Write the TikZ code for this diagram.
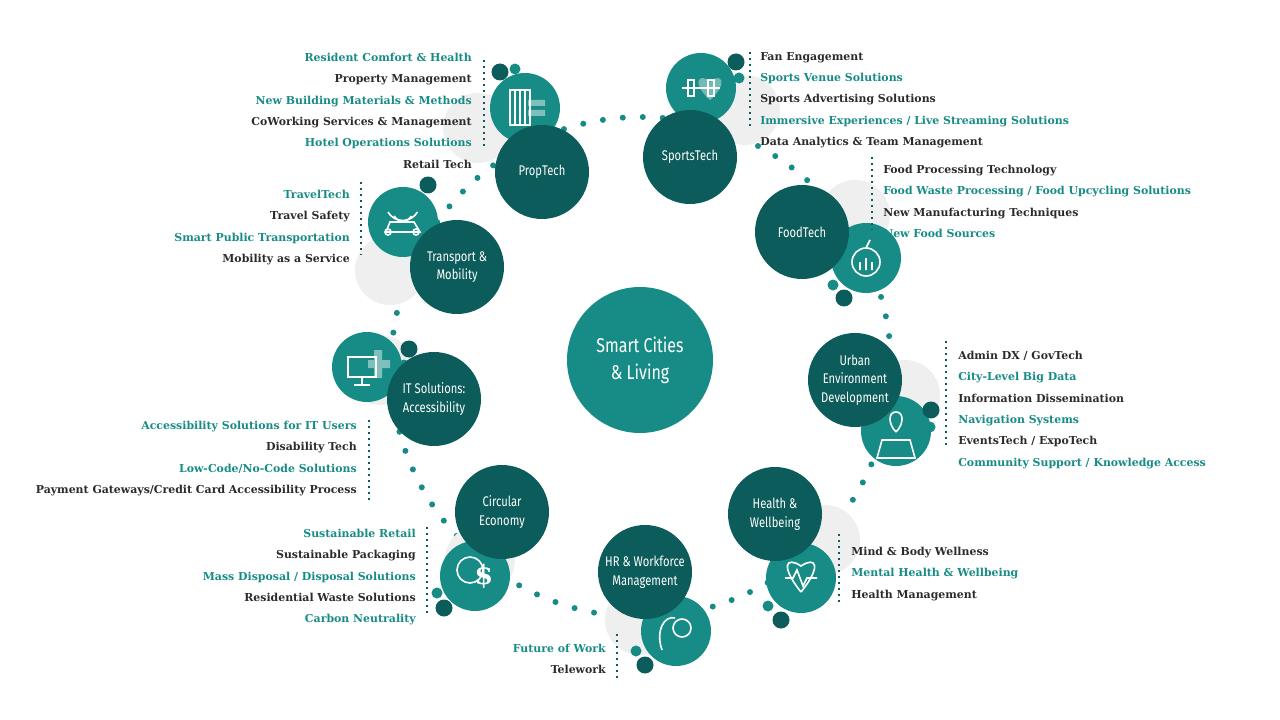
\documentclass[tikz,border=0pt]{standalone}
\usepackage{fontspec}
\setmainfont{DejaVu Serif}
\newfontfamily\lab{Fira Sans}
\definecolor{tl}{HTML}{178C86}
\definecolor{dk}{HTML}{0B5C5A}
\definecolor{tx}{HTML}{2B2B2B}
\definecolor{gr}{HTML}{EFEFEF}
\begin{document}
\begin{tikzpicture}[x=0.75pt,y=-0.75pt,
 big/.style={circle,fill=dk,minimum size=94*0.75pt,inner sep=0pt,text=white,font=\lab\fontsize{10.5}{14}\selectfont,align=center},
 ico/.style={circle,fill=tl,minimum size=70*0.75pt,inner sep=0pt},
 blob/.style={circle,fill=gr,minimum size=70*0.75pt,inner sep=0pt},
 ddot/.style={circle,fill=dk,minimum size=17*0.75pt,inner sep=0pt},
 ldot/.style={circle,fill=tl,minimum size=11*0.75pt,inner sep=0pt},
 vl/.style={dk,line width=1.5pt,dash pattern=on 1.5pt off 3pt},
 lt/.style={font=\bfseries\fontsize{8.2}{16}\selectfont,inner sep=0pt,align=left,anchor=north west},
 rt/.style={font=\bfseries\fontsize{8.2}{16}\selectfont,inner sep=0pt,align=right,anchor=north east},
 ic/.style={white,line width=1.2pt}]
\useasboundingbox (0,0) rectangle (1280,720);
% ring
\draw[tl,line width=4.5pt,dash pattern=on 0pt off 15pt,line cap=round] (641,367) circle[radius=250];
% grey blobs
\foreach \p in {(478,128),(745,110),(855,215),(905,395),(825,540),(640,620),(480,560),(380,370),(390,270)}
 \node[blob] at \p {};
% icons
\node[ico] (i1) at (525,108) {};
\node[ico] (i2) at (701,88) {};
\node[ico] (i3) at (866,258) {};
\node[ico] (i4) at (896,431) {};
\node[ico] (i5) at (801,578) {};
\node[ico] (i6) at (676,631) {};
\node[ico] (i7) at (475,576) {};
\node[ico] (i8) at (367,367) {};
\node[ico] (i9) at (403,222) {};
% small dots
\node[ddot] (d1) at (500,72) {}; \node[ldot] (e1) at (515,69) {};
\node[ddot] (d2) at (736,62) {}; \node[ldot] (e2) at (739,78) {};
\node[ddot] (d3) at (844,298) {}; \node[ldot] (e3) at (833,285) {};
\node[ddot] (d4) at (931,410) {}; \node[ldot] (e4) at (930,427) {};
\node[ddot] (d5) at (781,620) {}; \node[ldot] (e5) at (768,606) {};
\node[ddot] (d6) at (645,665) {}; \node[ldot] (e6) at (636,651) {};
\node[ddot] (d7) at (444,608) {}; \node[ldot] (e7) at (437,593) {};
\node[ddot] (d8) at (409,349) {}; \node[ldot] (e8) at (404,365) {};
\node[ddot] (d9) at (428,185) {}; \node[ldot] (e9) at (418,199) {};
% icon glyphs (simplified)
\draw[ic] (510,125) rectangle (530,90) (515,90)--(515,125) (520,90)--(520,125) (525,90)--(525,125);
\fill[white,opacity=.45] (528,100) rectangle (545,106) (528,110) rectangle (545,116);
\fill[white,opacity=.4] (710,82) .. controls (700,72) and (690,82) .. (710,100) .. controls (730,82) and (720,72) .. (710,82);
\draw[ic] (682,88)--(720,88) (688,80) rectangle (694,96) (708,80) rectangle (714,96);
\draw[ic] (866,262) circle[radius=14] (866,248)--(870,240) (860,262)--(860,270) (866,258)--(866,270) (872,262)--(872,270);
\draw[ic] (882,440)--(910,440)--(915,458)--(877,458)--cycle;
\draw[ic] (896,432) .. controls (888,424) and (888,412) .. (896,412) .. controls (904,412) and (904,424) .. (896,432);
\draw[ic] (801,578) ++(0,14) .. controls (780,566) and (786,556) .. (801,566) .. controls (816,556) and (822,566) .. (801,592);
\draw[ic] (785,578)--(793,578)--(797,570)--(803,586)--(807,578)--(817,578);
\draw[ic] (682,628) circle[radius=9] (662,650) .. controls (655,630) and (665,615) .. (675,618);
\draw[ic] (470,570) circle[radius=13]; \node[white,font=\bfseries\fontsize{20}{20}\selectfont] at (484,576) {\$};
\draw[ic] (348,357) rectangle (376,377) (362,377)--(362,385) (354,385)--(370,385);
\fill[white,opacity=.45] (374,350) rectangle (382,378) (368,360) rectangle (390,368);
\draw[ic] (386,232)--(390,222)--(414,222)--(420,232)--cycle (388,232) circle[radius=3] (416,232) circle[radius=3];
\draw[ic] (388,212) arc[start angle=150,end angle=30,radius=17];
\draw[ic] (394,216) arc[start angle=150,end angle=30,radius=10];
% main nodes
\node[circle,fill=tl,minimum size=146*0.75pt,inner sep=0pt,text=white,font=\lab\fontsize{15}{20}\selectfont,align=center] (c) at (640,360) {\scalebox{0.8}[1]{Smart Cities}\\\scalebox{0.8}[1]{\& Living}};
\node[big] (n1) at (542,172) {\scalebox{0.8}[1]{PropTech}};
\node[big] (n2) at (690,157) {\scalebox{0.8}[1]{SportsTech}};
\node[big] (n3) at (802,232) {\scalebox{0.8}[1]{FoodTech}};
\node[big] (n4) at (855,380) {\scalebox{0.8}[1]{Urban}\\\scalebox{0.8}[1]{Environment}\\\scalebox{0.8}[1]{Development}};
\node[big] (n5) at (775,514) {\scalebox{0.8}[1]{Health \&}\\\scalebox{0.8}[1]{Wellbeing}};
\node[big] (n6) at (645,572) {\scalebox{0.8}[1]{HR \& Workforce}\\\scalebox{0.8}[1]{Management}};
\node[big] (n7) at (502,512) {\scalebox{0.8}[1]{Circular}\\\scalebox{0.8}[1]{Economy}};
\node[big] (n8) at (434,399) {\scalebox{0.8}[1]{IT Solutions:}\\\scalebox{0.8}[1]{Accessibility}};
\node[big] (n9) at (457,267) {\scalebox{0.8}[1]{Transport \&}\\\scalebox{0.8}[1]{Mobility}};
% vertical dotted lines
\draw[vl] (484,60)--(484,148); \draw[vl] (750,52)--(750,130); \draw[vl] (872,157)--(872,230);
\draw[vl] (946,341)--(946,447); \draw[vl] (839,534)--(839,604); \draw[vl] (617,634)--(617,680);
\draw[vl] (427,527)--(427,615); \draw[vl] (369,420)--(369,500); \draw[vl] (361,182)--(361,255);
% lists
\node[rt] (t1) at (472,53) {\textcolor{tl}{Resident Comfort \& Health}\\\textcolor{tx}{Property Management}\\\textcolor{tl}{New Building Materials \& Methods}\\\textcolor{tx}{CoWorking Services \& Management}\\\textcolor{tl}{Hotel Operations Solutions}\\\textcolor{tx}{Retail Tech}};
\node[lt] (t2) at (760,52) {\textcolor{tx}{Fan Engagement}\\\textcolor{tl}{Sports Venue Solutions}\\\textcolor{tx}{Sports Advertising Solutions}\\\textcolor{tl}{Immersive Experiences / Live Streaming Solutions}\\\textcolor{tx}{Data Analytics \& Team Management}};
\node[lt] (t3) at (883,165) {\textcolor{tx}{Food Processing Technology}\\\textcolor{tl}{Food Waste Processing / Food Upcycling Solutions}\\\textcolor{tx}{New Manufacturing Techniques}\\\textcolor{tl}{New Food Sources}};
\node[lt] (t4) at (958,351) {\textcolor{tx}{Admin DX / GovTech}\\\textcolor{tl}{City-Level Big Data}\\\textcolor{tx}{Information Dissemination}\\\textcolor{tl}{Navigation Systems}\\\textcolor{tx}{EventsTech / ExpoTech}\\\textcolor{tl}{Community Support / Knowledge Access}};
\node[lt] (t5) at (851,547) {\textcolor{tx}{Mind \& Body Wellness}\\\textcolor{tl}{Mental Health \& Wellbeing}\\\textcolor{tx}{Health Management}};
\node[rt] (t6) at (606,644) {\textcolor{tl}{Future of Work}\\\textcolor{tx}{Telework}};
\node[rt] (t7) at (416,529) {\textcolor{tl}{Sustainable Retail}\\\textcolor{tx}{Sustainable Packaging}\\\textcolor{tl}{Mass Disposal / Disposal Solutions}\\\textcolor{tx}{Residential Waste Solutions}\\\textcolor{tl}{Carbon Neutrality}};
\node[rt] (t8) at (357,421) {\textcolor{tl}{Accessibility Solutions for IT Users}\\\textcolor{tx}{Disability Tech}\\\textcolor{tl}{Low-Code/No-Code Solutions}\\\textcolor{tx}{Payment Gateways/Credit Card Accessibility Process}};
\node[rt] (t9) at (350,190) {\textcolor{tl}{TravelTech}\\\textcolor{tx}{Travel Safety}\\\textcolor{tl}{Smart Public Transportation}\\\textcolor{tx}{Mobility as a Service}};
\end{tikzpicture}
\end{document}
